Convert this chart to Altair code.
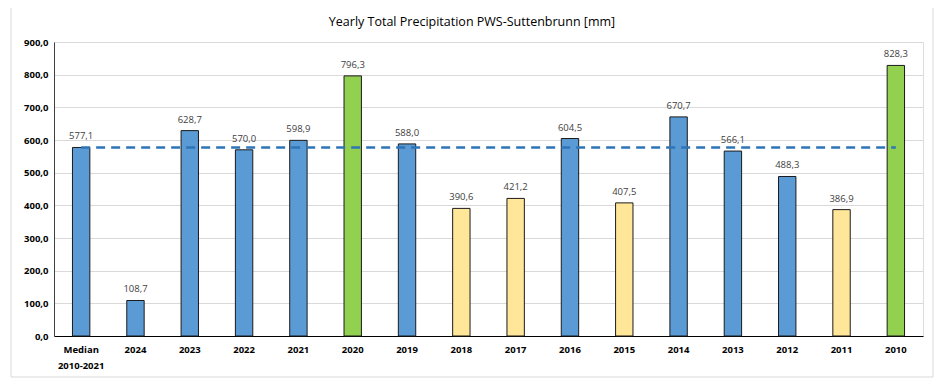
import altair as alt
import pandas as pd

categories = ["Median 2010-2021", "2024", "2023", "2022", "2021", "2020", "2019", "2018",
              "2017", "2016", "2015", "2014", "2013", "2012", "2011", "2010"]
values = [577.1, 108.7, 628.7, 570.0, 598.9, 796.3, 588.0, 390.6,
          421.2, 604.5, 407.5, 670.7, 566.1, 488.3, 386.9, 828.3]
kinds = ["normal", "normal", "normal", "normal", "normal", "wet", "normal", "dry",
         "dry", "normal", "dry", "normal", "normal", "normal", "dry", "wet"]
median_value = 577.1
title_text = "Yearly Total Precipitation PWS-Suttenbrunn [mm]"

kind_domain = ["normal", "wet", "dry"]
kind_colors = ["#5B9BD5", "#92D050", "#FFE699"]

df = pd.DataFrame({"cat": categories, "value": values, "kind": kinds})
med = pd.DataFrame({"start": [categories[0]], "end": [categories[-1]], "value": [median_value]})
frame = pd.DataFrame({"t": [title_text]})

FONT = "Open Sans"

xscale = alt.Scale(domain=categories, paddingInner=0.68, paddingOuter=0.34)
xaxis = alt.Axis(labelAngle=0, labelFont=FONT, labelFontSize=9.5, labelFontWeight="bold",
                 labelColor="#000000", ticks=False, domainColor="#000000",
                 labelPadding=8, labelLineHeight=16,
                 labelExpr="datum.value == 'Median 2010-2021' ? ['Median', '2010-2021'] : datum.value")
yscale = alt.Scale(domain=[0, 900], nice=False)
yaxis = alt.Axis(values=[0, 100, 200, 300, 400, 500, 600, 700, 800, 900], labelOverlap=False,
                 labelFont=FONT, labelFontSize=9.5, labelFontWeight="bold", labelColor="#000000",
                 ticks=False, domainColor="#404040", gridColor="#D9D9D9", labelPadding=6,
                 labelExpr="replace(format(datum.value, '.1f'), '.', ',')")

def X(field):
    return alt.X(field, title=None, scale=xscale, axis=xaxis)

def Y(field):
    return alt.Y(field, title=None, scale=yscale, axis=yaxis)

border = alt.Chart(frame).mark_rect(fill=None, stroke="#D9D9D9", strokeWidth=1, clip=False).encode(
    x=alt.value(-43), x2=alt.value(879), y=alt.value(-37), y2=alt.value(335))

title = alt.Chart(frame).mark_text(font=FONT, fontSize=12.5, color="#000000", align="center",
                                   baseline="alphabetic").encode(
    x=alt.value(418), y=alt.value(-16), text="t:N")

bars = alt.Chart(df).mark_bar(stroke="#1A1A1A", strokeWidth=1).encode(
    x=X("cat:N"), y=Y("value:Q"),
    color=alt.Color("kind:N", scale=alt.Scale(domain=kind_domain, range=kind_colors), legend=None))

labels = alt.Chart(df).transform_calculate(
    lab="replace(format(datum.value, '.1f'), '.', ',')"
).mark_text(baseline="bottom", dy=-6, font=FONT, fontSize=9.5, color="#404040").encode(
    x=X("cat:N"), y=Y("value:Q"), text="lab:N")

rule = alt.Chart(med).mark_rule(color="#2E75B6", strokeWidth=2.5, strokeDash=[9, 6]).encode(
    x=X("start:N"), x2="end:N", y=Y("value:Q"))

chart = alt.layer(border, title, bars, rule, labels).properties(
    width=869, height=294,
    autosize=alt.AutoSizeParams(type="none"),
    padding={"left": 46, "top": 34, "right": 12, "bottom": 45},
).configure_view(stroke=None).configure(background="#FFFFFF")

chart.save("out.html", embed_options={"renderer": "svg", "actions": False})
